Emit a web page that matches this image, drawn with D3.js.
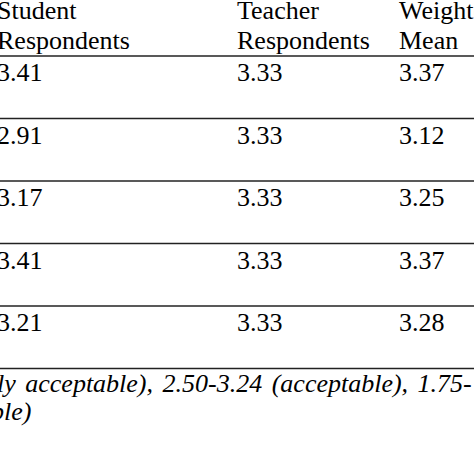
<!DOCTYPE html>
<html>
<head>
<meta charset="utf-8">
<script src="https://cdn.jsdelivr.net/npm/d3@7"></script>
<style>
  body { margin: 0; background: #fff; }
  svg { display: block; }
</style>
</head>
<body>
<svg id="chart" width="474" height="474"></svg>
<script>
// table contents
const headers = [["Student", "Respondents"], ["Teacher", "Respondents"], ["Weighted", "Mean"]];
const studentValues = ["3.41", "2.91", "3.17", "3.41", "3.21"];
const teacherValues = ["3.33", "3.33", "3.33", "3.33", "3.33"];
const weightedValues = ["3.37", "3.12", "3.25", "3.37", "3.28"];
const footnote = ["ly acceptable), 2.50-3.24 (acceptable), 1.75-", "able)"];

const svg = d3.select("#chart");
const font = "'Liberation Serif', 'Times New Roman', serif";

const colX = d3.scaleOrdinal().domain([0, 1, 2]).range([-3, 237, 399]);
const rowY = d3.scaleLinear().domain([0, 1]).range([81, 143.5]);
const lineY = d3.scaleLinear().domain([0, 1]).range([56, 118.5]);

// header
headers.forEach((h, c) => {
	h.forEach((t, i) => {
		svg.append("text")
			.attr("x", colX(c)).attr("y", 19 + i * 30)
			.style("font-family", font).style("font-size", "26px")
			.text(t);
	});
});

// rule lines
d3.range(6).forEach(i => {
	svg.append("line")
		.attr("x1", 0).attr("x2", 474)
		.attr("y1", lineY(i)).attr("y2", lineY(i))
		.style("stroke", "#222").style("stroke-width", 1.5);
});

// body rows
[studentValues, teacherValues, weightedValues].forEach((col, c) => {
	col.forEach((v, r) => {
		svg.append("text")
			.attr("x", colX(c)).attr("y", rowY(r))
			.style("font-family", font).style("font-size", "26px")
			.text(v);
	});
});

// footnote
footnote.forEach((t, i) => {
	svg.append("text")
		.attr("x", i === 0 ? -3 : -22).attr("y", 392 + i * 28)
		.style("font-family", font).style("font-size", "26px")
		.style("font-style", "italic")
		.attr("word-spacing", "3px")
		.text(t);
});
</script>
</body>
</html>
